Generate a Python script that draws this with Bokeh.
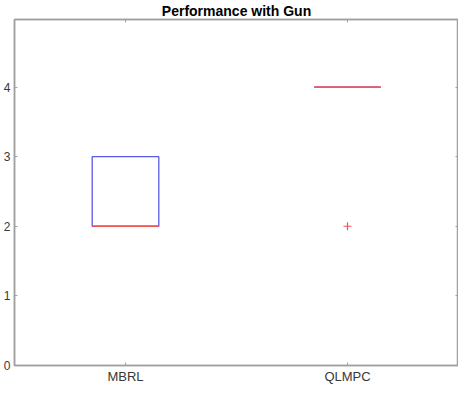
from bokeh.plotting import figure
from bokeh.models import LinearAxis, FixedTicker, Range1d
from bokeh.embed import file_html
from bokeh.resources import INLINE

# ---- data ----
categories = ["MBRL", "QLMPC"]
q1 = [2, 4]
q3 = [3, 4]
median = [2, 4]
whisker_lo = [2, 4]
whisker_hi = [3, 4]
outlier_cat = ["QLMPC"]
outlier_val = [2]
y_ticks = [0, 1, 2, 3, 4]

pos = [i + 1 for i in range(len(categories))]
half = 0.15

p = figure(width=458, height=386, output_backend="svg", toolbar_location=None,
           x_range=Range1d(0.5, 2.5), y_range=Range1d(0, 4.97),
           min_border_left=10, min_border_right=0, min_border_top=0, min_border_bottom=0)

p.title.text = "Performance with Gun"
p.title.align = "center"
p.title.text_font = "Liberation Sans"
p.title.text_font_size = "14px"
p.title.text_font_style = "bold"
p.title.text_color = "#000000"
p.title.standoff = 1

p.grid.visible = False
p.outline_line_color = "#a0a0a0"
p.outline_line_width = 1.5
p.background_fill_color = "white"

grey = "#a0a0a0"
lbl = "#383838"

def style_axis(ax, size="12px", labels=True):
    ax.axis_label = None
    ax.axis_line_color = grey
    ax.axis_line_width = 1.5
    ax.major_tick_line_color = grey
    ax.major_tick_in = 3
    ax.major_tick_out = 0
    ax.minor_tick_line_color = None
    ax.major_label_text_font = "Liberation Sans"
    ax.major_label_text_font_size = size
    ax.major_label_text_color = lbl
    ax.axis_label_standoff = 0
    if not labels:
        ax.major_label_standoff = 0

xa = p.xaxis[0]
xa.ticker = FixedTicker(ticks=pos)
xa.major_label_overrides = {pv: c for pv, c in zip(pos, categories)}
style_axis(xa, size="13px")
xa.major_label_standoff = 3

ya = p.yaxis[0]
ya.ticker = FixedTicker(ticks=y_ticks)
style_axis(ya, size="12px")
ya.major_label_standoff = 4

top = LinearAxis(ticker=FixedTicker(ticks=pos),
                 major_label_overrides={pv: "" for pv in pos})
style_axis(top, labels=False)
p.add_layout(top, "above")
right = LinearAxis(ticker=FixedTicker(ticks=y_ticks),
                   major_label_overrides={t: "" for t in y_ticks})
style_axis(right, labels=False)
p.add_layout(right, "right")

blue = "#5a5ae6"
red = "#f05555"

xs_l = [x - half for x in pos]
xs_r = [x + half for x in pos]

# whiskers (dashed)
p.segment(x0=pos, y0=q3, x1=pos, y1=whisker_hi, line_color="black", line_dash="4 2")
p.segment(x0=pos, y0=whisker_lo, x1=pos, y1=q1, line_color="black", line_dash="4 2")
# boxes
p.quad(left=xs_l, right=xs_r, bottom=q1, top=q3, fill_color=None,
       line_color=blue, line_width=1.3)
# medians
p.segment(x0=xs_l, y0=median, x1=xs_r, y1=median, line_color=red, line_width=1.6)
# outliers
ox = [pos[categories.index(c)] for c in outlier_cat]
p.scatter(x=ox, y=outlier_val, marker="cross", size=8, line_color=red, line_width=1.2)

open("out.html", "w").write(file_html(p, INLINE))
